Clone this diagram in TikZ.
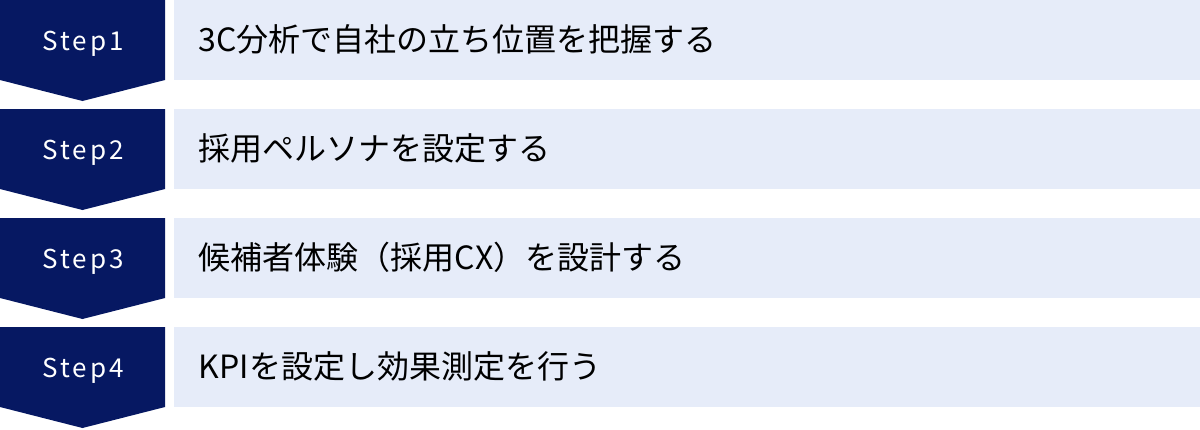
\documentclass[tikz,border=0pt]{standalone}
\usepackage{fontspec}
\setmainfont{Noto Sans CJK JP}
\newfontfamily\stepfont[LetterSpace=12]{Noto Sans CJK JP}
\definecolor{navy}{HTML}{061862}
\definecolor{pale}{HTML}{E6ECF9}
\tikzset{
  steplabel/.style={text=white, font=\stepfont\fontsize{26}{30}\selectfont, inner sep=0pt, anchor=base},
  itemtext/.style={text=black, font=\fontsize{32}{38}\selectfont, inner sep=0pt, anchor=base west},
  itembox/.style={fill=pale, draw=none, inner sep=0pt, minimum width=1026pt, minimum height=80pt, anchor=north west},
}
\newcommand{\chevronrow}[4]{%
  \fill[navy] (0,#1) -- (165,#1) -- (165,#1+80) -- (82.5,#1+101) -- (0,#1+80) -- cycle;
  \node[itembox] (box#4) at (174,#1) {};
  \node[steplabel] (step#4) at (83,#1+50.5) {#2};
  \node[itemtext] (text#4) at (198.5,#1+51) {#3};
}
\begin{document}
\begin{tikzpicture}[x=1pt,y=-1pt]
\useasboundingbox (0,0) rectangle (1200,429);
\chevronrow{0}{Step1}{3C分析で自社の立ち位置を把握する}{a}
\chevronrow{109}{Step2}{採用ペルソナを設定する}{b}
\chevronrow{218}{Step3}{候補者体験（採用CX）を設計する}{c}
\chevronrow{327}{Step4}{KPIを設定し効果測定を行う}{d}
\end{tikzpicture}
\end{document}
